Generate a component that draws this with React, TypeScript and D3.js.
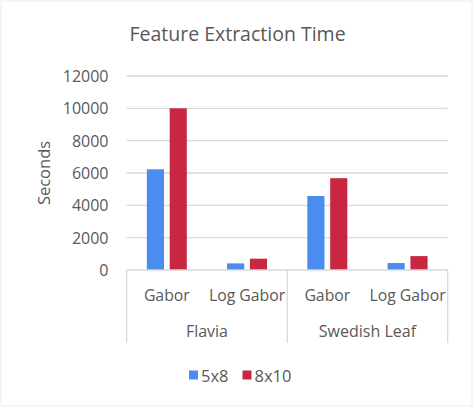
import React, { useEffect, useRef } from "react";
import * as d3 from "d3";

const groups = ["Flavia", "Swedish Leaf"];
const methods = ["Gabor", "Log Gabor"];
const seriesNames = ["5x8", "8x10"];
const values5x8 = [6230, 410, 4580, 430];
const values8x10 = [10000, 700, 5680, 860];
const yTicks = [0, 2000, 4000, 6000, 8000, 10000, 12000];

const W = 474;
const H = 408;
const FONT = "'Open Sans', 'Liberation Sans', sans-serif";

export default function App() {
  const ref = useRef<SVGSVGElement | null>(null);

  useEffect(() => {
    if (!ref.current) return;
    const svg = d3.select(ref.current);
    svg.selectAll("*").remove();

    const left = 126.7;
    const right = 447.7;
    const top = 76;
    const bottom = 270;

    const cats = groups.flatMap((g) => methods.map((m) => `${g}|${m}`));
    const rows = cats.map((c, i) => ({
      key: c,
      method: c.split("|")[1],
      vals: [
        { s: seriesNames[0], v: values5x8[i] },
        { s: seriesNames[1], v: values8x10[i] },
      ],
    }));

    const x0 = d3.scaleBand().domain(cats).range([left, right]);
    const x1 = d3
      .scaleBand()
      .domain(seriesNames)
      .range([0, 40])
      .paddingInner(0.25);
    const y = d3.scaleLinear().domain([0, 12000]).range([bottom, top]);
    const color = d3
      .scaleOrdinal<string>()
      .domain(seriesNames)
      .range(["#4a8cf0", "#c82742"]);

    // outer frame
    svg
      .append("rect")
      .attr("x", 1)
      .attr("y", 1)
      .attr("width", W - 3)
      .attr("height", H - 3)
      .attr("fill", "#fff")
      .attr("stroke", "#ececec");

    // title
    svg
      .append("text")
      .attr("x", 237.5)
      .attr("y", 33.5)
      .attr("text-anchor", "middle")
      .attr("dominant-baseline", "central")
      .attr("font-family", FONT)
      .attr("font-size", 19.5)
      .attr("fill", "#595959")
      .text("Feature Extraction Time");

    // gridlines
    svg
      .append("g")
      .selectAll("line")
      .data(yTicks.filter((t) => t > 0))
      .join("line")
      .attr("x1", left)
      .attr("x2", right)
      .attr("y1", (d) => y(d))
      .attr("y2", (d) => y(d))
      .attr("stroke", "#d9d9d9")
      .attr("stroke-width", 1.3);

    // y tick labels
    svg
      .append("g")
      .selectAll("text")
      .data(yTicks)
      .join("text")
      .attr("x", 108.5)
      .attr("y", (d) => y(d))
      .attr("text-anchor", "end")
      .attr("dominant-baseline", "central")
      .attr("font-family", FONT)
      .attr("font-size", 16)
      .attr("fill", "#595959")
      .text((d) => d);

    // y axis title
    svg
      .append("text")
      .attr("transform", `translate(43.5,173) rotate(-90)`)
      .attr("text-anchor", "middle")
      .attr("dominant-baseline", "central")
      .attr("font-family", FONT)
      .attr("font-size", 16.5)
      .attr("fill", "#595959")
      .text("Seconds");

    // bars
    svg
      .append("g")
      .selectAll("g")
      .data(rows)
      .join("g")
      .attr(
        "transform",
        (d) => `translate(${x0(d.key)! + x0.bandwidth() / 2 - 20},0)`
      )
      .selectAll("rect")
      .data((d) => d.vals)
      .join("rect")
      .attr("x", (d) => x1(d.s)!)
      .attr("y", (d) => y(d.v))
      .attr("width", x1.bandwidth())
      .attr("height", (d) => y(0) - y(d.v))
      .attr("fill", (d) => color(d.s));

    // category axis
    const axisCol = "#d9d9d9";
    svg
      .append("line")
      .attr("x1", left)
      .attr("x2", right)
      .attr("y1", bottom)
      .attr("y2", bottom)
      .attr("stroke", axisCol)
      .attr("stroke-width", 1.3);
    const groupEdges = [left, left + (right - left) / 2, right];
    svg
      .append("g")
      .selectAll("line")
      .data(groupEdges)
      .join("line")
      .attr("x1", (d) => d)
      .attr("x2", (d) => d)
      .attr("y1", bottom)
      .attr("y2", 343)
      .attr("stroke", axisCol)
      .attr("stroke-width", 1.3);

    svg
      .append("g")
      .selectAll("text")
      .data(rows)
      .join("text")
      .attr("x", (d) => x0(d.key)! + x0.bandwidth() / 2)
      .attr("y", 295)
      .attr("text-anchor", "middle")
      .attr("dominant-baseline", "central")
      .attr("font-family", FONT)
      .attr("font-size", 15.8)
      .attr("fill", "#595959")
      .text((d) => d.method);

    svg
      .append("g")
      .selectAll("text")
      .data(groups)
      .join("text")
      .attr("x", (_, i) => (groupEdges[i] + groupEdges[i + 1]) / 2)
      .attr("y", 331)
      .attr("text-anchor", "middle")
      .attr("dominant-baseline", "central")
      .attr("font-family", FONT)
      .attr("font-size", 16)
      .attr("fill", "#595959")
      .text((d) => d);

    // legend
    const legendX = [189, 242.5];
    seriesNames.forEach((s, i) => {
      svg
        .append("rect")
        .attr("x", legendX[i])
        .attr("y", 370.5)
        .attr("width", 9)
        .attr("height", 9)
        .attr("fill", color(s));
      svg
        .append("text")
        .attr("x", legendX[i] + 12)
        .attr("y", 375)
        .attr("dominant-baseline", "central")
        .attr("font-family", FONT)
        .attr("font-size", 16.5)
        .attr("fill", "#595959")
        .text(s);
    });
  }, []);

  return (
    <svg
      ref={ref}
      width={W}
      height={H}
      style={{ position: "absolute", left: 0, top: 0 }}
    ></svg>
  );
}
